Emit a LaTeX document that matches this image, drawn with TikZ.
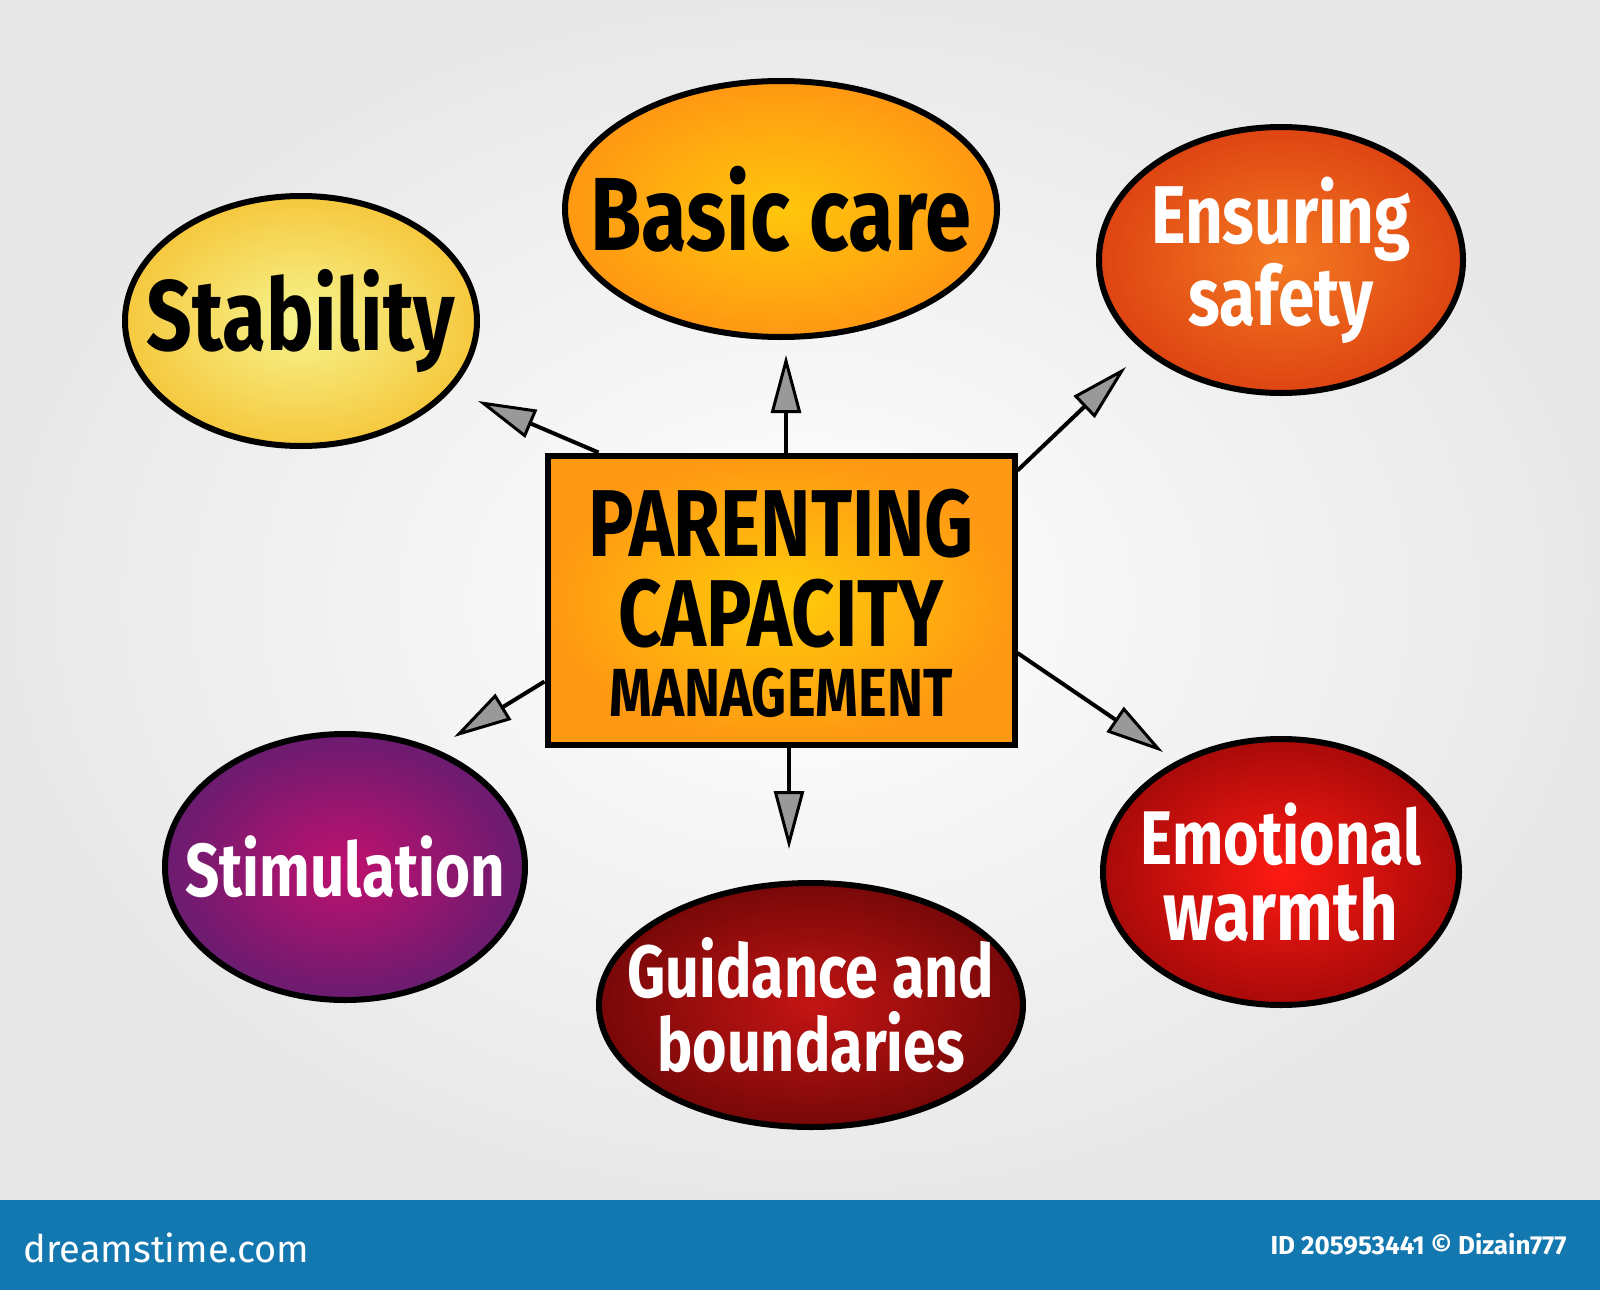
\documentclass[tikz,border=0pt]{standalone}
\usepackage{fontspec}
\setmainfont{Fira Sans}
\newfontfamily\handfont[FakeStretch=0.8]{Fira Sans}
\usetikzlibrary{shapes.geometric,arrows.meta}

\definecolor{barblue}{HTML}{1378B0}
\definecolor{stabin}{HTML}{F6F48E}
\definecolor{stabout}{HTML}{F6C83E}
\definecolor{basicin}{HTML}{FFC60C}
\definecolor{basicout}{HTML}{FF9812}
\definecolor{safein}{HTML}{F47A22}
\definecolor{safeout}{HTML}{DE4412}
\definecolor{stimin}{HTML}{C0106E}
\definecolor{stimout}{HTML}{6A1C70}
\definecolor{guidin}{HTML}{C41414}
\definecolor{guidout}{HTML}{780808}
\definecolor{emoin}{HTML}{FF1A12}
\definecolor{emoout}{HTML}{A80A0A}

\begin{document}
\begin{tikzpicture}[x=1pt,y=-1pt,
	bubble/.style={ellipse,draw,line width=6pt,inner sep=0pt},
	hand/.style={font=\handfont\bfseries\fontsize{#1}{#1}\selectfont,align=center},
	link/.style={line width=4pt,line join=round,
	-{Triangle[length=58pt,width=30pt,fill=black!40,line width=3pt]}}]
\useasboundingbox (0,0) rectangle (1600,1290);
\shade[inner color=white,outer color=black!9] (0,0) rectangle (1600,1200);
\fill[barblue] (0,1200) rectangle (1600,1290);

% centre
\node[draw,line width=6pt,minimum width=467pt,minimum height=289pt,
	inner color=basicin!90!yellow,outer color=basicout] (pc) at (781,600) {};
\node[hand=95,anchor=base,inner sep=0pt] (l1) at (781,556) {PARENTING};
\node[hand=95,anchor=base,inner sep=0pt] (l2) at (781,646) {CAPACITY};
\node[hand=68,anchor=base,inner sep=0pt] (l3) at (781,716) {MANAGEMENT};

% bubbles
\node[bubble,minimum width=352pt,minimum height=250pt,
	inner color=stabin,outer color=stabout] (stab) at (301,321) {};
\node[bubble,minimum width=432pt,minimum height=256pt,
	inner color=basicin,outer color=basicout] (basic) at (781,209) {};
\node[bubble,minimum width=364pt,minimum height=266pt,
	inner color=safein,outer color=safeout] (safe) at (1281,260) {};
\node[bubble,minimum width=360pt,minimum height=266pt,
	inner color=stimin,outer color=stimout] (stim) at (345,867) {};
\node[bubble,minimum width=424pt,minimum height=244pt,
	inner color=guidin,outer color=guidout] (guid) at (811,1005) {};
\node[bubble,minimum width=356pt,minimum height=266pt,
	inner color=emoin,outer color=emoout] (emo) at (1281,872) {};

% labels
\node[hand=100] (stabtxt) at (stab) {Stability};
\node[hand=104] (basictxt) at (basic) {Basic care};
\node[hand=82,text=white] (safetxt) at (safe) {Ensuring\\safety};
\node[hand=75,text=white] (stimtxt) at (stim) {Stimulation};
\node[hand=74,text=white] (guidtxt) at (guid) {Guidance and\\boundaries};
\node[hand=76,text=white] (emotxt) at (emo) {Emotional\\\fontsize{84}{84}\selectfont warmth};

% arrow tips
\coordinate (tstab) at (478,401);
\coordinate (tbasic) at (786,355);
\coordinate (tsafe) at (1126,367);
\coordinate (tstim) at (454,737);
\coordinate (tguid) at (789,849);
\coordinate (temo) at (1163,752);

\draw[link] ([xshift=54pt]pc.north west) -- (tstab);
\draw[link] ([xshift=5pt]pc.north) -- (tbasic);
\draw[link] ([yshift=-18pt]pc.north east) -- (tsafe);
\draw[link] ([yshift=66pt]pc.south west) -- (tstim);
\draw[link] ([xshift=8pt]pc.south) -- (tguid);
\draw[link] ([yshift=-53pt]pc.east) -- (temo);

% footer
\node[anchor=base west,text=white,font=\fontsize{38}{38}\selectfont] (site)
	at (20,1262) {dreamstime.com};
\node[anchor=base east,text=white,font=\bfseries\fontsize{26}{26}\selectfont] (id)
	at (1570,1254) {ID 205953441 © Dizain777};
\end{tikzpicture}
\end{document}
